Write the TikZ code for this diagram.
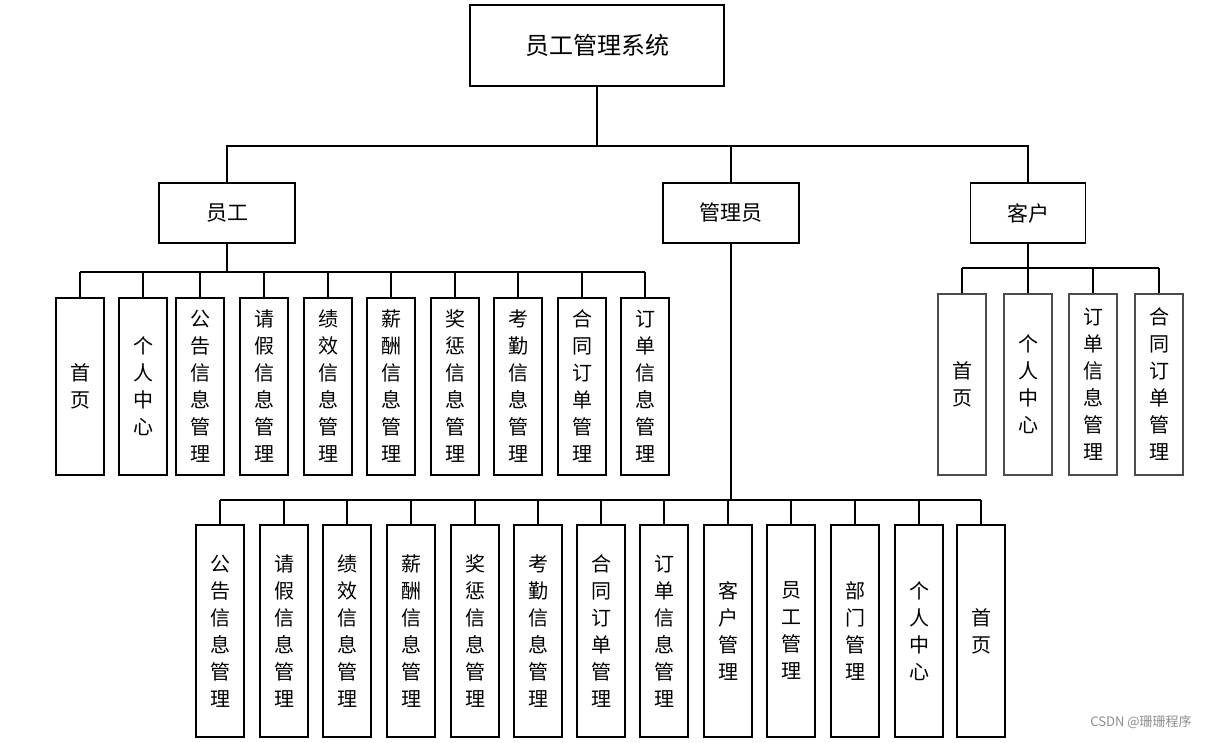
\documentclass[tikz,border=0pt]{standalone}
\usepackage{fontspec}
\setmainfont{Noto Sans CJK SC}
\begin{document}
\begin{tikzpicture}[x=1pt,y=-1pt,
  box/.style={draw,line width=1.2pt,inner sep=0pt},
  vt/.style={box,minimum width=48pt,align=center,font=\fontsize{20}{27}\selectfont},
  ln/.style={line width=1.3pt}]
\useasboundingbox (0,0) rectangle (1225,742);
\node[box,minimum width=254pt,minimum height=81pt,font=\fontsize{24}{28}\selectfont] (root) at (597,45.5) {员工管理系统};
\node[box,minimum width=136pt,minimum height=60pt,font=\fontsize{21}{26}\selectfont] (emp) at (227,213) {员工};
\node[box,minimum width=136pt,minimum height=60pt,font=\fontsize{21}{26}\selectfont] (adm) at (731,213) {管理员};
\node[box,minimum width=115pt,minimum height=60pt,font=\fontsize{21}{26}\selectfont] (cus) at (1028,213) {客户};
\coordinate (r1) at (597,146);
\draw[ln] (root.south) -- (r1);
\draw[ln] (emp.north) |- (r1) -| (cus.north);
\draw[ln] (adm.north) -- (731,146);
% employee
\foreach \x/\t [count=\i] in {80/{首\\页},143/{个\\人\\中\\心},200/{公\\告\\信\\息\\管\\理},264/{请\\假\\信\\息\\管\\理},328/{绩\\效\\信\\息\\管\\理},391/{薪\\酬\\信\\息\\管\\理},455/{奖\\惩\\信\\息\\管\\理},518/{考\\勤\\信\\息\\管\\理},582/{合\\同\\订\\单\\管\\理},645/{订\\单\\信\\息\\管\\理}}{
  \node[vt,minimum height=177pt] (e\i) at (\x,386.5) {\t};
  \draw[ln] (e\i.north) -- (\x,272);
}
\draw[ln] (80,272) -- (645,272);
\draw[ln] (emp.south) -- (227,272);
% admin
\foreach \x/\t [count=\i] in {220/{公\\告\\信\\息\\管\\理},284/{请\\假\\信\\息\\管\\理},347/{绩\\效\\信\\息\\管\\理},411/{薪\\酬\\信\\息\\管\\理},475/{奖\\惩\\信\\息\\管\\理},538/{考\\勤\\信\\息\\管\\理},601/{合\\同\\订\\单\\管\\理},664/{订\\单\\信\\息\\管\\理},728/{客\\户\\管\\理},791/{员\\工\\管\\理},855/{部\\门\\管\\理},919/{个\\人\\中\\心},981/{首\\页}}{
  \node[vt,minimum height=212pt] (a\i) at (\x,631) {\t};
  \draw[ln] (a\i.north) -- (\x,500);
}
\draw[ln] (220,500) -- (981,500);
\draw[ln] (adm.south) -- (731,500);
% customer
\foreach \x/\t [count=\i] in {962/{首\\页},1028/{个\\人\\中\\心},1093/{订\\单\\信\\息\\管\\理},1159/{合\\同\\订\\单\\管\\理}}{
  \node[vt,draw=black!70,minimum height=181pt] (c\i) at (\x,384.5) {\t};
  \draw[ln] (c\i.north) -- (\x,268);
}
\draw[ln] (962,268) -- (1159,268);
\draw[ln] (cus.south) -- (1028,268);
\node[text=black!45,font=\fontsize{13}{15}\selectfont] (wm) at (1141,722) {CSDN @珊珊程序};
\end{tikzpicture}
\end{document}
